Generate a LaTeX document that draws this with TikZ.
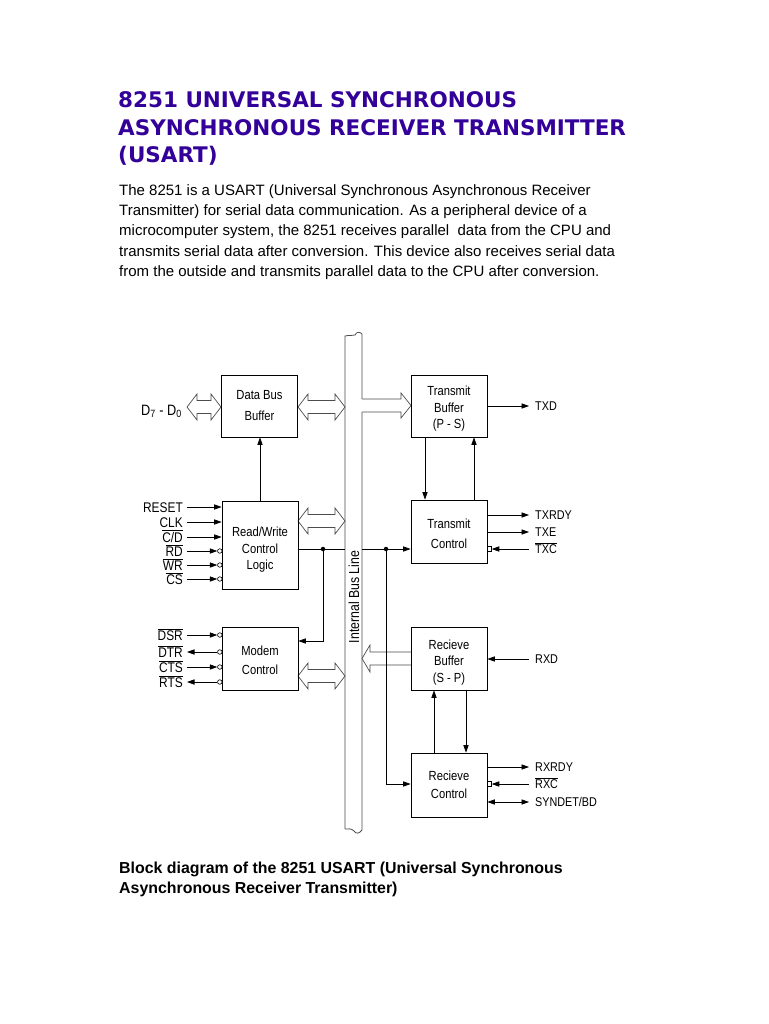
\documentclass[tikz,border=0pt]{standalone}
\usepackage{fontspec}
\setmainfont{Liberation Sans}
\newfontfamily\titlefont{DejaVu Sans}
\newfontfamily\narrowfont[FakeStretch=0.85]{Liberation Sans}
\usetikzlibrary{arrows.meta}
\definecolor{titlecol}{RGB}{51,0,153}
\definecolor{linegray}{gray}{0.3}
\newcommand\ovl[1]{$\overline{\mbox{#1}}$}
\newcommand\hollowdbl[3]{%
  \draw[hollow] (#1,#3) -- ({#1+10},{#3-13}) -- ({#1+10},{#3-6.5}) -- ({#2-10},{#3-6.5}) -- ({#2-10},{#3-13}) -- (#2,#3) -- ({#2-10},{#3+13}) -- ({#2-10},{#3+6.5}) -- ({#1+10},{#3+6.5}) -- ({#1+10},{#3+13}) -- cycle;}
\begin{document}
\begin{tikzpicture}[x=1pt,y=-1pt,
 box/.style={draw, line width=0.8pt, minimum width=76pt, inner sep=0pt},
 boxtext/.style={inner sep=0pt, align=center, font=\narrowfont\fontsize{13.2}{16.5}\selectfont},
 sig/.style={line width=0.7pt},
 arr/.style={sig,-{Triangle[length=7.5pt,width=5.2pt]}},
 rarr/.style={sig,{Triangle[length=7.5pt,width=5.2pt]}-},
 darr/.style={sig,{Triangle[length=7.5pt,width=5.2pt]}-{Triangle[length=7.5pt,width=5.2pt]}},
 bub/.style={circle, draw, fill=white, inner sep=0pt, minimum size=4.5pt, line width=0.6pt},
 sqb/.style={rectangle, draw, fill=white, inner sep=0pt, minimum size=4.5pt, line width=0.6pt},
 lbl/.style={anchor=east, inner sep=0pt, text height=10pt, text depth=0pt, font=\narrowfont\fontsize{14}{14}\selectfont},
 rlbl/.style={anchor=west, inner sep=0pt, text height=9pt, text depth=0pt, font=\narrowfont\fontsize{12.7}{12.7}\selectfont},
 hollow/.style={draw=linegray, line width=0.7pt, fill=white, line join=miter},
 dot/.style={circle, fill, inner sep=0pt, minimum size=4.5pt},
 para/.style={anchor=base west, inner sep=0pt, font=\fontsize{15}{15}\selectfont},
 ttl/.style={anchor=base west, inner sep=0pt, text=titlecol, font=\titlefont\bfseries\fontsize{21.5}{21.5}\selectfont},
 capt/.style={anchor=base west, inner sep=0pt, font=\bfseries\fontsize{15.9}{15.9}\selectfont}
]
\fill[white] (0,0) rectangle (768,1024);
\useasboundingbox (0,0) rectangle (768,1024);

% title
\node[ttl] (title1) at (118,108) {8251 UNIVERSAL SYNCHRONOUS};
\node[ttl] (title2) at (118,135.5) {ASYNCHRONOUS RECEIVER TRANSMITTER};
\node[ttl] (title3) at (118,163) {(USART)};

% paragraph
\node[para] (p1) at (119,196) {The 8251 is a USART (Universal Synchronous Asynchronous Receiver};
\node[para] (p2) at (119,216) {Transmitter) for serial data communication. As a peripheral device of a};
\node[para] (p3) at (119,236) {microcomputer system, the 8251 receives parallel\ \ data from the CPU and};
\node[para] (p4) at (119,256) {transmits serial data after conversion. This device also receives serial data};
\node[para] (p5) at (119,276) {from the outside and transmits parallel data to the CPU after conversion.};

% caption
\node[capt] (c1) at (119,873) {Block diagram of the 8251 USART (Universal Synchronous};
\node[capt] (c2) at (119,893) {Asynchronous Receiver Transmitter)};

% bus
\draw[draw=linegray, line width=0.8pt] (345,829) -- (345,336) .. controls (349,335) and (352,336) .. (355,335) .. controls (357,331) and (360,332) .. (362,334) -- (362,399);
\draw[draw=linegray, line width=0.8pt] (362,412) -- (362,830) .. controls (359,834) and (356,834) .. (354,831) .. controls (351,828) and (348,829) .. (345,829);
\node[rotate=90, inner sep=0pt, font=\narrowfont\fontsize{14.5}{14.5}\selectfont] (busname) at (354,597) {Internal Bus Line};

% hollow bus arrows
\hollowdbl{187}{221}{407}
\hollowdbl{298}{345}{407}
\hollowdbl{298}{345}{521}
\hollowdbl{298}{345}{676}
\draw[hollow] (362,399) -- (401,399) -- (401,393) -- (411,405.5) -- (401,418) -- (401,412) -- (362,412);
\draw[hollow] (411,652) -- (370,652) -- (370,645) -- (362,658.5) -- (370,672) -- (370,665) -- (411,665);

% boxes
\node[box, minimum height=62pt] (dbb) at (259.5,406) {};
\node[box, minimum height=88pt] (rw) at (260,545) {};
\node[box, minimum height=63pt] (mc) at (260,658.5) {};
\node[box, minimum height=62pt] (tb) at (449,406) {};
\node[box, minimum height=63pt] (tc) at (449,531.5) {};
\node[box, minimum height=63pt] (rb) at (449,658.5) {};
\node[box, minimum height=64pt] (rc) at (449,785) {};
\node[boxtext] (dbbtext) at (dbb.center) {Data Bus\\[4.5pt]Buffer};
\node[boxtext] (rwtext) at ([yshift=-5pt]rw.center) {Read/Write\\Control\\Logic};
\node[boxtext] (mctext) at ([yshift=-2pt]mc.center) {Modem\\[2.5pt]Control};
\node[boxtext] (tbtext) at ([yshift=-3pt]tb.center) {Transmit\\Buffer\\(P - S)};
\node[boxtext] (tctext) at ([yshift=-2pt]tc.center) {Transmit\\[3.5pt]Control};
\node[boxtext] (rbtext) at ([yshift=-4pt]rb.center) {Recieve\\Buffer\\(S - P)};
\node[boxtext] (rctext) at (rc.center) {Recieve\\[1.5pt]Control};

% D7-D0
\node[lbl, font=\narrowfont\fontsize{15}{15}\selectfont] (dlab) at (182,410) {D\textsubscript{7} - D\textsubscript{0}};

% box-to-box
\draw[arr] (rw.north) -- (rw.north |- dbb.south);
\draw[arr] ([xshift=-24pt]tb.south) -- ([xshift=-24pt]tc.north);
\draw[arr] ([xshift=25pt]tc.north) -- ([xshift=25pt]tb.south);
\draw[arr] ([xshift=-15pt]rc.north) -- ([xshift=-15pt]rb.south);
\draw[arr] ([xshift=17pt]rb.south) -- ([xshift=17pt]rc.north);

% internal control line
\coordinate (j1) at (323,549);
\coordinate (bl) at (345,549);
\coordinate (br) at (362,549);
\coordinate (j2) at (386,549);
\coordinate (j1b) at (323,641);
\coordinate (j2b) at (386,784);
\draw[sig] (rw.east |- j1) -- (bl);
\draw[arr] (br) -- (br -| tc.west);
\draw[arr] (j1) -- (j1b) -- (j1b -| mc.east);
\draw[arr] (j2) -- (j2b) -- (j2b -| rc.west);
\node[dot] (d1) at (j1) {};
\node[dot] (d2) at (j2) {};

% read/write inputs
\node[lbl] (lreset) at (183,507) {RESET};
\node[lbl] (lclk) at (183,522) {CLK};
\node[lbl] (lcd) at (183,537) {\ovl{C/D}};
\node[lbl] (lrd) at (183,551) {\ovl{RD}};
\node[lbl] (lwr) at (183,565) {\ovl{WR}};
\node[lbl] (lcs) at (183,579) {\ovl{CS}};
\draw[arr] ([xshift=4pt]lreset.east) -- (lreset.east -| rw.west);
\draw[arr] ([xshift=4pt]lclk.east) -- (lclk.east -| rw.west);
\draw[arr] ([xshift=4pt]lcd.east) -- (lcd.east -| rw.west);
\node[bub] (brd) at (219.8,551) {};
\node[bub] (bwr) at (219.8,565) {};
\node[bub] (bcs) at (219.8,579) {};
\draw[arr] ([xshift=4pt]lrd.east) -- (brd.west);
\draw[arr] ([xshift=4pt]lwr.east) -- (bwr.west);
\draw[arr] ([xshift=4pt]lcs.east) -- (bcs.west);

% modem signals
\node[lbl] (ldsr) at (183,635) {\ovl{DSR}};
\node[lbl] (ldtr) at (183,652) {\ovl{DTR}};
\node[lbl] (lcts) at (183,667) {\ovl{CTS}};
\node[lbl] (lrts) at (183,682) {\ovl{RTS}};
\node[bub] (bdsr) at (219.8,635) {};
\node[bub] (bdtr) at (219.8,652) {};
\node[bub] (bcts) at (219.8,667) {};
\node[bub] (brts) at (219.8,682) {};
\draw[arr] ([xshift=4pt]ldsr.east) -- (bdsr.west);
\draw[rarr] ([xshift=4pt]ldtr.east) -- (bdtr.west);
\draw[arr] ([xshift=4pt]lcts.east) -- (bcts.west);
\draw[rarr] ([xshift=4pt]lrts.east) -- (brts.west);

% transmit side
\node[rlbl] (ltxd) at (535,406) {TXD};
\node[rlbl] (ltxrdy) at (535,515) {TXRDY};
\node[rlbl] (ltxe) at (535,532) {TXE};
\node[rlbl] (ltxc) at (535,549) {\ovl{TXC}};
\draw[arr] (tb.east |- ltxd.west) -- ([xshift=-6pt]ltxd.west);
\draw[arr] (tc.east |- ltxrdy.west) -- ([xshift=-6pt]ltxrdy.west);
\draw[arr] (tc.east |- ltxe.west) -- ([xshift=-6pt]ltxe.west);
\node[sqb] (btxc) at (489.2,549) {};
\draw[arr] ([xshift=-6pt]ltxc.west) -- (btxc.east);

% receive side
\node[rlbl] (lrxd) at (535,659) {RXD};
\node[rlbl] (lrxrdy) at (535,767) {RXRDY};
\node[rlbl] (lrxc) at (535,784) {\ovl{RXC}};
\node[rlbl] (lsyn) at (535,802) {SYNDET/BD};
\draw[arr] ([xshift=-6pt]lrxd.west) -- (lrxd.west -| rb.east);
\draw[arr] (rc.east |- lrxrdy.west) -- ([xshift=-6pt]lrxrdy.west);
\node[sqb] (brxc) at (489.2,784) {};
\draw[arr] ([xshift=-6pt]lrxc.west) -- (brxc.east);
\draw[darr] (rc.east |- lsyn.west) -- ([xshift=-6pt]lsyn.west);
\end{tikzpicture}
\end{document}
